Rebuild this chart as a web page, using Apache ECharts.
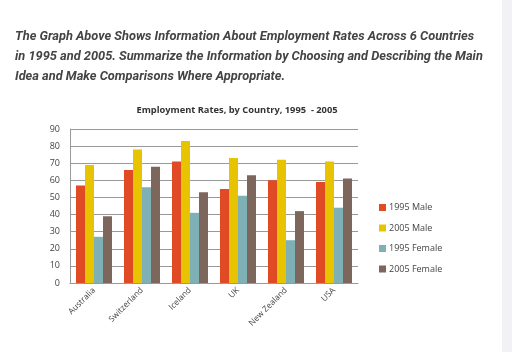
<!DOCTYPE html>
<html>
<head>
<meta charset="utf-8">
<script src="https://cdn.jsdelivr.net/npm/echarts@6/dist/echarts.min.js"></script>
<style>
html,body{margin:0;padding:0;background:#fff;}
#strip{position:absolute;left:502px;top:0;width:10px;height:352px;background:#f2f2f4;}
#c{position:absolute;left:0;top:0;width:512px;height:352px;}
</style>
</head>
<body>
<div id="strip"></div>
<div id="c"></div>
<script>
const categories = ['Australia','Switzerland','Iceland','UK','New Zealand','USA'];
const male1995 = [57, 66, 71, 55, 60, 59];
const male2005 = [69, 78, 83, 73, 72, 71];
const female1995 = [27, 56, 41, 51, 25, 44];
const female2005 = [39, 68, 53, 63, 42, 61];
const seriesNames = ['1995 Male','2005 Male','1995 Female','2005 Female'];
const yTicks = [0,10,20,30,40,50,60,70,80,90];
const colors = ['#e04b26','#e8c300','#7fb0b5','#7d675d'];
const headerLines = [
  'The Graph Above Shows Information About Employment Rates Across 6 Countries',
  'in 1995 and 2005. Summarize the Information by Choosing and Describing the Main',
  'Idea and Make Comparisons Where Appropriate.'
];

const chart = echarts.init(document.getElementById('c'), null, {renderer:'canvas'});
const dataSets = [male1995, male2005, female1995, female2005];
chart.setOption({
  animation:false,
  color: colors,
  title: [{
    text: headerLines.join('\n'),
    left: 15, top: 27, padding:0,
    textStyle:{fontFamily:'Roboto', fontStyle:'italic', fontWeight:'bold', fontSize:12.8, color:'#444', lineHeight:20}
  },{
    text: 'Employment Rates, by Country, 1995  - 2005',
    left: 237, top: 106, textAlign:'center', padding:0,
    textStyle:{fontFamily:'Open Sans', fontWeight:'bold', fontSize:9.3, color:'#333'}
  }],
  legend:{
    orient:'vertical', left: 374, top: 198,
    itemWidth:7, itemHeight:7, itemGap:11.5,
    icon:'rect',
    data: seriesNames,
    textStyle:{fontFamily:'Open Sans', fontSize:9, color:'#444', padding:[0,0,0,-2]}
  },
  grid:{left:70, top:129, width:288, height:154, containLabel:false},
  xAxis:{
    type:'category', data:categories,
    axisLine:{show:true, lineStyle:{color:'#999'}},
    axisTick:{show:false},
    axisLabel:{rotate:45, fontFamily:'Open Sans', fontSize:8.3, color:'#444', margin:6, interval:0}
  },
  yAxis:{
    type:'value', min:yTicks[0], max:yTicks[yTicks.length-1], interval:10,
    axisLine:{show:true, lineStyle:{color:'#999'}},
    axisTick:{show:false},
    splitLine:{lineStyle:{color:'#999', width:1}},
    axisLabel:{fontFamily:'Open Sans', fontSize:9, color:'#444', margin:10}
  },
  series: seriesNames.map((n,i)=>({
    name:n, type:'bar', data:dataSets[i], barWidth:9, barGap:'0%',
    itemStyle:{color:colors[i]}
  }))
});
</script>
</body>
</html>
